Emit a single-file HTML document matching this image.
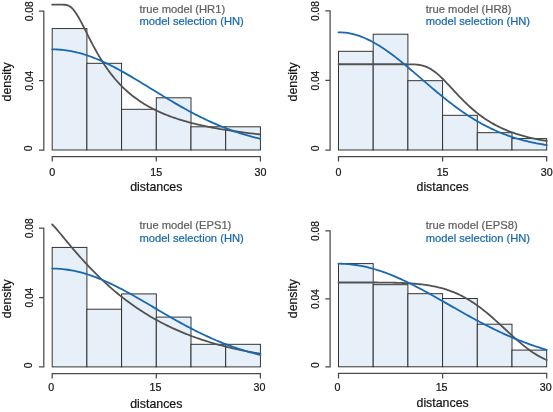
<!DOCTYPE html>
<html><head><meta charset="utf-8"><title>plot</title>
<style>
html,body{margin:0;padding:0;background:#fff}
svg{display:block}
text{font-family:"Liberation Sans",sans-serif;fill:#151515;stroke:#151515;stroke-width:0.22px}
.tk{font-size:10.7px}
.lb{font-size:12.35px}
.lg{font-size:11.2px}
</style></head><body>
<svg width="553" height="412" viewBox="0 0 553 412">
<rect width="553" height="412" fill="#fff"/>

<g>
<rect x="52.20" y="28.60" width="34.70" height="121.40" fill="#e7f0f8" stroke="#2a2a2a" stroke-width="0.95"/>
<rect x="86.90" y="63.30" width="34.70" height="86.70" fill="#e7f0f8" stroke="#2a2a2a" stroke-width="0.95"/>
<rect x="121.60" y="109.30" width="34.70" height="40.70" fill="#e7f0f8" stroke="#2a2a2a" stroke-width="0.95"/>
<rect x="156.30" y="97.80" width="34.70" height="52.20" fill="#e7f0f8" stroke="#2a2a2a" stroke-width="0.95"/>
<rect x="191.00" y="126.80" width="34.70" height="23.20" fill="#e7f0f8" stroke="#2a2a2a" stroke-width="0.95"/>
<rect x="225.70" y="126.80" width="34.70" height="23.20" fill="#e7f0f8" stroke="#2a2a2a" stroke-width="0.95"/>
<path d="M52.20,4.68 L53.94,4.68 L55.67,4.68 L57.41,4.68 L59.14,4.68 L60.88,4.68 L62.61,4.69 L64.34,4.75 L66.08,4.94 L67.81,5.40 L69.55,6.23 L71.28,7.50 L73.02,9.23 L74.75,11.39 L76.49,13.92 L78.23,16.76 L79.96,19.85 L81.70,23.10 L83.43,26.47 L85.17,29.91 L86.90,33.37 L88.64,36.81 L90.37,40.22 L92.11,43.56 L93.84,46.83 L95.58,50.02 L97.31,53.11 L99.05,56.10 L100.78,58.98 L102.52,61.77 L104.25,64.45 L105.99,67.02 L107.72,69.50 L109.46,71.88 L111.19,74.17 L112.93,76.36 L114.66,78.47 L116.40,80.49 L118.13,82.43 L119.87,84.29 L121.60,86.08 L123.34,87.80 L125.07,89.45 L126.81,91.03 L128.54,92.55 L130.28,94.01 L132.01,95.42 L133.75,96.77 L135.48,98.08 L137.22,99.33 L138.95,100.54 L140.69,101.70 L142.42,102.82 L144.16,103.90 L145.89,104.94 L147.62,105.95 L149.36,106.92 L151.10,107.86 L152.83,108.76 L154.56,109.64 L156.30,110.48 L158.04,111.30 L159.77,112.09 L161.50,112.86 L163.24,113.60 L164.98,114.31 L166.71,115.01 L168.44,115.68 L170.18,116.33 L171.92,116.97 L173.65,117.58 L175.38,118.18 L177.12,118.75 L178.86,119.32 L180.59,119.86 L182.32,120.39 L184.06,120.91 L185.80,121.41 L187.53,121.89 L189.26,122.37 L191.00,122.83 L192.74,123.27 L194.47,123.71 L196.20,124.13 L197.94,124.55 L199.68,124.95 L201.41,125.34 L203.15,125.73 L204.88,126.10 L206.62,126.46 L208.35,126.82 L210.09,127.16 L211.82,127.50 L213.56,127.83 L215.29,128.15 L217.03,128.47 L218.76,128.77 L220.50,129.07 L222.23,129.37 L223.97,129.65 L225.70,129.93 L227.44,130.20 L229.17,130.47 L230.91,130.73 L232.64,130.99 L234.38,131.24 L236.11,131.48 L237.85,131.72 L239.58,131.96 L241.31,132.19 L243.05,132.41 L244.79,132.63 L246.52,132.85 L248.25,133.06 L249.99,133.27 L251.73,133.47 L253.46,133.67 L255.19,133.86 L256.93,134.05 L258.67,134.24 L260.40,134.43" fill="none" stroke="#525252" stroke-width="1.8" stroke-linejoin="round" stroke-linecap="round"/>
<path d="M52.20,49.35 L53.94,49.36 L55.67,49.41 L57.41,49.49 L59.14,49.59 L60.88,49.73 L62.61,49.90 L64.34,50.10 L66.08,50.33 L67.81,50.59 L69.55,50.87 L71.28,51.19 L73.02,51.54 L74.75,51.91 L76.49,52.32 L78.23,52.75 L79.96,53.21 L81.70,53.69 L83.43,54.21 L85.17,54.75 L86.90,55.31 L88.64,55.90 L90.37,56.52 L92.11,57.16 L93.84,57.82 L95.58,58.51 L97.31,59.22 L99.05,59.95 L100.78,60.70 L102.52,61.48 L104.25,62.27 L105.99,63.09 L107.72,63.92 L109.46,64.77 L111.19,65.64 L112.93,66.52 L114.66,67.42 L116.40,68.34 L118.13,69.27 L119.87,70.21 L121.60,71.17 L123.34,72.14 L125.07,73.12 L126.81,74.11 L128.54,75.11 L130.28,76.12 L132.01,77.14 L133.75,78.17 L135.48,79.20 L137.22,80.24 L138.95,81.29 L140.69,82.34 L142.42,83.40 L144.16,84.46 L145.89,85.52 L147.62,86.58 L149.36,87.65 L151.10,88.71 L152.83,89.78 L154.56,90.85 L156.30,91.91 L158.04,92.98 L159.77,94.04 L161.50,95.10 L163.24,96.15 L164.98,97.20 L166.71,98.25 L168.44,99.29 L170.18,100.32 L171.92,101.35 L173.65,102.37 L175.38,103.39 L177.12,104.39 L178.86,105.39 L180.59,106.38 L182.32,107.36 L184.06,108.34 L185.80,109.30 L187.53,110.25 L189.26,111.19 L191.00,112.12 L192.74,113.04 L194.47,113.95 L196.20,114.85 L197.94,115.73 L199.68,116.61 L201.41,117.47 L203.15,118.31 L204.88,119.15 L206.62,119.97 L208.35,120.78 L210.09,121.58 L211.82,122.36 L213.56,123.13 L215.29,123.89 L217.03,124.63 L218.76,125.36 L220.50,126.08 L222.23,126.78 L223.97,127.47 L225.70,128.14 L227.44,128.80 L229.17,129.45 L230.91,130.08 L232.64,130.70 L234.38,131.31 L236.11,131.90 L237.85,132.48 L239.58,133.05 L241.31,133.60 L243.05,134.14 L244.79,134.66 L246.52,135.18 L248.25,135.68 L249.99,136.17 L251.73,136.64 L253.46,137.10 L255.19,137.55 L256.93,137.99 L258.67,138.42 L260.40,138.84" fill="none" stroke="#1868b2" stroke-width="1.8" stroke-linejoin="round" stroke-linecap="round"/>
<path d="M39.00,11.10 H43.80 V150.00 H39.00 M39.00,80.55 H43.80" fill="none" stroke="#4a4a4a" stroke-width="1.25"/>
<path d="M52.20,161.60 V156.60 H260.40 V161.60 M156.30,156.60 V161.60" fill="none" stroke="#4a4a4a" stroke-width="1.25"/>
<text class="tk" transform="translate(52.20,175.80) scale(1,1.08)" text-anchor="middle">0</text>
<text class="tk" transform="translate(156.30,175.80) scale(1,1.08)" text-anchor="middle">15</text>
<text class="tk" transform="translate(260.40,175.80) scale(1,1.08)" text-anchor="middle">30</text>
<text class="lb" x="156.30" y="190.90" text-anchor="middle">distances</text>
<text class="tk" style="font-size:10.2px" transform="translate(32.30,148.40) rotate(-90)" text-anchor="middle">0</text>
<text class="tk" style="font-size:10.2px" transform="translate(32.60,80.75) rotate(-90)" text-anchor="middle">0.04</text>
<text class="tk" style="font-size:10.2px" transform="translate(32.60,11.30) rotate(-90)" text-anchor="middle">0.08</text>
<text class="lb" style="font-size:12.3px" transform="translate(11.10,81.90) rotate(-90)" text-anchor="middle">density</text>
<text class="lg" transform="translate(139.40,12.50) scale(1,1.035)" style="fill:#606060;stroke:#606060">true model (HR1)</text>
<text class="lg" transform="translate(139.40,25.30) scale(1,1.035)" style="fill:#1868b2;stroke:#1868b2">model selection (HN)</text>
</g>
<g>
<rect x="338.50" y="51.30" width="34.70" height="98.70" fill="#e7f0f8" stroke="#2a2a2a" stroke-width="0.95"/>
<rect x="373.20" y="34.20" width="34.70" height="115.80" fill="#e7f0f8" stroke="#2a2a2a" stroke-width="0.95"/>
<rect x="407.90" y="80.70" width="34.70" height="69.30" fill="#e7f0f8" stroke="#2a2a2a" stroke-width="0.95"/>
<rect x="442.60" y="115.30" width="34.70" height="34.70" fill="#e7f0f8" stroke="#2a2a2a" stroke-width="0.95"/>
<rect x="477.30" y="132.70" width="34.70" height="17.30" fill="#e7f0f8" stroke="#2a2a2a" stroke-width="0.95"/>
<rect x="512.00" y="138.60" width="34.70" height="11.40" fill="#e7f0f8" stroke="#2a2a2a" stroke-width="0.95"/>
<path d="M338.50,64.27 L340.24,64.27 L341.97,64.27 L343.70,64.27 L345.44,64.27 L347.18,64.27 L348.91,64.27 L350.64,64.27 L352.38,64.27 L354.12,64.27 L355.85,64.27 L357.58,64.27 L359.32,64.27 L361.06,64.27 L362.79,64.27 L364.52,64.27 L366.26,64.27 L368.00,64.27 L369.73,64.27 L371.47,64.27 L373.20,64.27 L374.94,64.27 L376.67,64.27 L378.40,64.27 L380.14,64.27 L381.88,64.27 L383.61,64.27 L385.35,64.27 L387.08,64.27 L388.81,64.27 L390.55,64.27 L392.29,64.27 L394.02,64.27 L395.75,64.27 L397.49,64.27 L399.23,64.27 L400.96,64.27 L402.69,64.27 L404.43,64.27 L406.17,64.27 L407.90,64.28 L409.63,64.29 L411.37,64.32 L413.11,64.37 L414.84,64.45 L416.57,64.57 L418.31,64.76 L420.05,65.03 L421.78,65.38 L423.51,65.84 L425.25,66.41 L426.99,67.10 L428.72,67.93 L430.45,68.88 L432.19,69.96 L433.93,71.17 L435.66,72.49 L437.39,73.92 L439.13,75.44 L440.87,77.05 L442.60,78.74 L444.34,80.48 L446.07,82.28 L447.81,84.11 L449.54,85.96 L451.27,87.83 L453.01,89.71 L454.75,91.58 L456.48,93.44 L458.22,95.28 L459.95,97.09 L461.69,98.88 L463.42,100.63 L465.15,102.34 L466.89,104.02 L468.62,105.65 L470.36,107.23 L472.10,108.77 L473.83,110.26 L475.56,111.71 L477.30,113.11 L479.03,114.46 L480.77,115.76 L482.50,117.02 L484.24,118.23 L485.98,119.40 L487.71,120.52 L489.45,121.61 L491.18,122.65 L492.92,123.65 L494.65,124.61 L496.38,125.53 L498.12,126.42 L499.86,127.27 L501.59,128.09 L503.33,128.87 L505.06,129.63 L506.80,130.35 L508.53,131.05 L510.26,131.72 L512.00,132.36 L513.74,132.97 L515.47,133.56 L517.21,134.13 L518.94,134.67 L520.67,135.20 L522.41,135.70 L524.14,136.18 L525.88,136.64 L527.62,137.09 L529.35,137.52 L531.09,137.93 L532.82,138.32 L534.56,138.70 L536.29,139.07 L538.02,139.42 L539.76,139.76 L541.50,140.08 L543.23,140.39 L544.97,140.70 L546.70,140.99" fill="none" stroke="#525252" stroke-width="1.8" stroke-linejoin="round" stroke-linecap="round"/>
<path d="M338.50,32.30 L340.24,32.33 L341.97,32.41 L343.70,32.53 L345.44,32.72 L347.18,32.95 L348.91,33.23 L350.64,33.56 L352.38,33.95 L354.12,34.38 L355.85,34.86 L357.58,35.40 L359.32,35.97 L361.06,36.60 L362.79,37.27 L364.52,37.99 L366.26,38.75 L368.00,39.56 L369.73,40.41 L371.47,41.30 L373.20,42.22 L374.94,43.19 L376.67,44.20 L378.40,45.24 L380.14,46.32 L381.88,47.43 L383.61,48.58 L385.35,49.76 L387.08,50.96 L388.81,52.20 L390.55,53.46 L392.29,54.75 L394.02,56.06 L395.75,57.40 L397.49,58.75 L399.23,60.13 L400.96,61.52 L402.69,62.93 L404.43,64.36 L406.17,65.80 L407.90,67.25 L409.63,68.71 L411.37,70.19 L413.11,71.67 L414.84,73.15 L416.57,74.64 L418.31,76.14 L420.05,77.64 L421.78,79.13 L423.51,80.63 L425.25,82.13 L426.99,83.62 L428.72,85.11 L430.45,86.59 L432.19,88.07 L433.93,89.54 L435.66,91.00 L437.39,92.45 L439.13,93.89 L440.87,95.31 L442.60,96.73 L444.34,98.13 L446.07,99.51 L447.81,100.88 L449.54,102.24 L451.27,103.58 L453.01,104.90 L454.75,106.20 L456.48,107.48 L458.22,108.74 L459.95,109.99 L461.69,111.21 L463.42,112.41 L465.15,113.59 L466.89,114.75 L468.62,115.89 L470.36,117.01 L472.10,118.10 L473.83,119.17 L475.56,120.22 L477.30,121.24 L479.03,122.24 L480.77,123.22 L482.50,124.18 L484.24,125.11 L485.98,126.02 L487.71,126.91 L489.45,127.77 L491.18,128.61 L492.92,129.43 L494.65,130.22 L496.38,131.00 L498.12,131.75 L499.86,132.47 L501.59,133.18 L503.33,133.87 L505.06,134.53 L506.80,135.17 L508.53,135.80 L510.26,136.40 L512.00,136.98 L513.74,137.55 L515.47,138.09 L517.21,138.62 L518.94,139.12 L520.67,139.61 L522.41,140.09 L524.14,140.54 L525.88,140.98 L527.62,141.40 L529.35,141.80 L531.09,142.19 L532.82,142.57 L534.56,142.93 L536.29,143.27 L538.02,143.60 L539.76,143.92 L541.50,144.22 L543.23,144.51 L544.97,144.79 L546.70,145.06" fill="none" stroke="#1868b2" stroke-width="1.8" stroke-linejoin="round" stroke-linecap="round"/>
<path d="M325.30,10.90 H330.10 V150.00 H325.30 M325.30,80.45 H330.10" fill="none" stroke="#4a4a4a" stroke-width="1.25"/>
<path d="M338.50,161.60 V156.60 H546.70 V161.60 M442.60,156.60 V161.60" fill="none" stroke="#4a4a4a" stroke-width="1.25"/>
<text class="tk" transform="translate(338.50,175.80) scale(1,1.08)" text-anchor="middle">0</text>
<text class="tk" transform="translate(442.60,175.80) scale(1,1.08)" text-anchor="middle">15</text>
<text class="tk" transform="translate(546.70,175.80) scale(1,1.08)" text-anchor="middle">30</text>
<text class="lb" x="442.60" y="190.90" text-anchor="middle">distances</text>
<text class="tk" style="font-size:10.2px" transform="translate(318.60,148.40) rotate(-90)" text-anchor="middle">0</text>
<text class="tk" style="font-size:10.2px" transform="translate(318.90,80.65) rotate(-90)" text-anchor="middle">0.04</text>
<text class="tk" style="font-size:10.2px" transform="translate(318.90,11.10) rotate(-90)" text-anchor="middle">0.08</text>
<text class="lb" style="font-size:12.3px" transform="translate(297.40,81.90) rotate(-90)" text-anchor="middle">density</text>
<text class="lg" transform="translate(425.70,12.50) scale(1,1.035)" style="fill:#606060;stroke:#606060">true model (HR8)</text>
<text class="lg" transform="translate(425.70,25.30) scale(1,1.035)" style="fill:#1868b2;stroke:#1868b2">model selection (HN)</text>
</g>
<g>
<rect x="52.20" y="247.40" width="34.70" height="119.50" fill="#e7f0f8" stroke="#2a2a2a" stroke-width="0.95"/>
<rect x="86.90" y="309.20" width="34.70" height="57.70" fill="#e7f0f8" stroke="#2a2a2a" stroke-width="0.95"/>
<rect x="121.60" y="293.90" width="34.70" height="73.00" fill="#e7f0f8" stroke="#2a2a2a" stroke-width="0.95"/>
<rect x="156.30" y="317.10" width="34.70" height="49.80" fill="#e7f0f8" stroke="#2a2a2a" stroke-width="0.95"/>
<rect x="191.00" y="344.30" width="34.70" height="22.60" fill="#e7f0f8" stroke="#2a2a2a" stroke-width="0.95"/>
<rect x="225.70" y="344.30" width="34.70" height="22.60" fill="#e7f0f8" stroke="#2a2a2a" stroke-width="0.95"/>
<path d="M52.20,224.49 L53.94,226.20 L55.67,228.13 L57.41,230.15 L59.14,232.21 L60.88,234.29 L62.61,236.38 L64.34,238.47 L66.08,240.56 L67.81,242.64 L69.55,244.72 L71.28,246.78 L73.02,248.82 L74.75,250.85 L76.49,252.86 L78.23,254.84 L79.96,256.81 L81.70,258.76 L83.43,260.68 L85.17,262.58 L86.90,264.45 L88.64,266.30 L90.37,268.13 L92.11,269.93 L93.84,271.71 L95.58,273.46 L97.31,275.19 L99.05,276.89 L100.78,278.57 L102.52,280.22 L104.25,281.84 L105.99,283.44 L107.72,285.02 L109.46,286.57 L111.19,288.10 L112.93,289.60 L114.66,291.08 L116.40,292.53 L118.13,293.96 L119.87,295.37 L121.60,296.75 L123.34,298.11 L125.07,299.45 L126.81,300.76 L128.54,302.06 L130.28,303.33 L132.01,304.57 L133.75,305.80 L135.48,307.00 L137.22,308.19 L138.95,309.35 L140.69,310.49 L142.42,311.61 L144.16,312.71 L145.89,313.79 L147.62,314.85 L149.36,315.90 L151.10,316.92 L152.83,317.92 L154.56,318.91 L156.30,319.88 L158.04,320.83 L159.77,321.76 L161.50,322.68 L163.24,323.57 L164.98,324.46 L166.71,325.32 L168.44,326.17 L170.18,327.00 L171.92,327.82 L173.65,328.62 L175.38,329.41 L177.12,330.18 L178.86,330.93 L180.59,331.67 L182.32,332.40 L184.06,333.11 L185.80,333.81 L187.53,334.50 L189.26,335.17 L191.00,335.83 L192.74,336.48 L194.47,337.11 L196.20,337.73 L197.94,338.34 L199.68,338.94 L201.41,339.53 L203.15,340.10 L204.88,340.66 L206.62,341.21 L208.35,341.75 L210.09,342.28 L211.82,342.80 L213.56,343.31 L215.29,343.81 L217.03,344.30 L218.76,344.78 L220.50,345.25 L222.23,345.71 L223.97,346.16 L225.70,346.60 L227.44,347.03 L229.17,347.45 L230.91,347.87 L232.64,348.28 L234.38,348.67 L236.11,349.06 L237.85,349.45 L239.58,349.82 L241.31,350.19 L243.05,350.55 L244.79,350.90 L246.52,351.24 L248.25,351.58 L249.99,351.91 L251.73,352.23 L253.46,352.55 L255.19,352.86 L256.93,353.16 L258.67,353.46 L260.40,353.75" fill="none" stroke="#525252" stroke-width="1.8" stroke-linejoin="round" stroke-linecap="round"/>
<path d="M52.20,268.58 L53.94,268.60 L55.67,268.64 L57.41,268.71 L59.14,268.81 L60.88,268.94 L62.61,269.10 L64.34,269.29 L66.08,269.50 L67.81,269.74 L69.55,270.01 L71.28,270.31 L73.02,270.64 L74.75,270.99 L76.49,271.37 L78.23,271.77 L79.96,272.20 L81.70,272.66 L83.43,273.14 L85.17,273.65 L86.90,274.18 L88.64,274.74 L90.37,275.32 L92.11,275.92 L93.84,276.54 L95.58,277.19 L97.31,277.86 L99.05,278.55 L100.78,279.25 L102.52,279.98 L104.25,280.73 L105.99,281.50 L107.72,282.28 L109.46,283.09 L111.19,283.91 L112.93,284.74 L114.66,285.59 L116.40,286.46 L118.13,287.34 L119.87,288.23 L121.60,289.13 L123.34,290.05 L125.07,290.98 L126.81,291.92 L128.54,292.87 L130.28,293.83 L132.01,294.80 L133.75,295.77 L135.48,296.76 L137.22,297.75 L138.95,298.74 L140.69,299.74 L142.42,300.75 L144.16,301.76 L145.89,302.77 L147.62,303.79 L149.36,304.81 L151.10,305.83 L152.83,306.85 L154.56,307.87 L156.30,308.89 L158.04,309.91 L159.77,310.93 L161.50,311.94 L163.24,312.96 L164.98,313.97 L166.71,314.97 L168.44,315.98 L170.18,316.97 L171.92,317.97 L173.65,318.95 L175.38,319.93 L177.12,320.91 L178.86,321.88 L180.59,322.84 L182.32,323.79 L184.06,324.73 L185.80,325.67 L187.53,326.59 L189.26,327.51 L191.00,328.42 L192.74,329.31 L194.47,330.20 L196.20,331.08 L197.94,331.94 L199.68,332.80 L201.41,333.64 L203.15,334.48 L204.88,335.30 L206.62,336.11 L208.35,336.90 L210.09,337.69 L211.82,338.46 L213.56,339.22 L215.29,339.97 L217.03,340.71 L218.76,341.43 L220.50,342.14 L222.23,342.84 L223.97,343.52 L225.70,344.19 L227.44,344.85 L229.17,345.50 L230.91,346.13 L232.64,346.75 L234.38,347.36 L236.11,347.96 L237.85,348.54 L239.58,349.11 L241.31,349.66 L243.05,350.21 L244.79,350.74 L246.52,351.26 L248.25,351.77 L249.99,352.26 L251.73,352.75 L253.46,353.22 L255.19,353.68 L256.93,354.12 L258.67,354.56 L260.40,354.98" fill="none" stroke="#1868b2" stroke-width="1.8" stroke-linejoin="round" stroke-linecap="round"/>
<path d="M39.00,228.10 H43.80 V366.90 H39.00 M39.00,297.50 H43.80" fill="none" stroke="#4a4a4a" stroke-width="1.25"/>
<path d="M52.20,378.50 V373.50 H260.40 V378.50 M156.30,373.50 V378.50" fill="none" stroke="#4a4a4a" stroke-width="1.25"/>
<text class="tk" transform="translate(51.30,391.30) scale(1,1.08)" text-anchor="middle">0</text>
<text class="tk" transform="translate(155.40,391.30) scale(1,1.08)" text-anchor="middle">15</text>
<text class="tk" transform="translate(259.50,391.30) scale(1,1.08)" text-anchor="middle">30</text>
<text class="lb" x="156.30" y="407.50" text-anchor="middle">distances</text>
<text class="tk" style="font-size:10.2px" transform="translate(32.30,365.30) rotate(-90)" text-anchor="middle">0</text>
<text class="tk" style="font-size:10.2px" transform="translate(32.60,297.70) rotate(-90)" text-anchor="middle">0.04</text>
<text class="tk" style="font-size:10.2px" transform="translate(32.60,228.30) rotate(-90)" text-anchor="middle">0.08</text>
<text class="lb" style="font-size:12.3px" transform="translate(11.10,298.80) rotate(-90)" text-anchor="middle">density</text>
<text class="lg" transform="translate(139.40,229.10) scale(1,1.035)" style="fill:#606060;stroke:#606060">true model (EPS1)</text>
<text class="lg" transform="translate(139.40,241.90) scale(1,1.035)" style="fill:#1868b2;stroke:#1868b2">model selection (HN)</text>
</g>
<g>
<rect x="338.50" y="263.60" width="34.70" height="103.20" fill="#e7f0f8" stroke="#2a2a2a" stroke-width="0.95"/>
<rect x="373.20" y="284.70" width="34.70" height="82.10" fill="#e7f0f8" stroke="#2a2a2a" stroke-width="0.95"/>
<rect x="407.90" y="293.70" width="34.70" height="73.10" fill="#e7f0f8" stroke="#2a2a2a" stroke-width="0.95"/>
<rect x="442.60" y="298.50" width="34.70" height="68.30" fill="#e7f0f8" stroke="#2a2a2a" stroke-width="0.95"/>
<rect x="477.30" y="324.20" width="34.70" height="42.60" fill="#e7f0f8" stroke="#2a2a2a" stroke-width="0.95"/>
<rect x="512.00" y="350.10" width="34.70" height="16.70" fill="#e7f0f8" stroke="#2a2a2a" stroke-width="0.95"/>
<path d="M338.50,282.48 L340.24,282.48 L341.97,282.48 L343.70,282.48 L345.44,282.48 L347.18,282.48 L348.91,282.48 L350.64,282.48 L352.38,282.48 L354.12,282.48 L355.85,282.48 L357.58,282.48 L359.32,282.48 L361.06,282.48 L362.79,282.49 L364.52,282.49 L366.26,282.49 L368.00,282.49 L369.73,282.50 L371.47,282.50 L373.20,282.50 L374.94,282.51 L376.67,282.52 L378.40,282.53 L380.14,282.54 L381.88,282.55 L383.61,282.57 L385.35,282.59 L387.08,282.61 L388.81,282.63 L390.55,282.66 L392.29,282.69 L394.02,282.73 L395.75,282.77 L397.49,282.82 L399.23,282.88 L400.96,282.94 L402.69,283.01 L404.43,283.08 L406.17,283.17 L407.90,283.26 L409.63,283.36 L411.37,283.48 L413.11,283.60 L414.84,283.74 L416.57,283.89 L418.31,284.06 L420.05,284.24 L421.78,284.44 L423.51,284.65 L425.25,284.88 L426.99,285.14 L428.72,285.41 L430.45,285.70 L432.19,286.02 L433.93,286.35 L435.66,286.72 L437.39,287.11 L439.13,287.52 L440.87,287.97 L442.60,288.44 L444.34,288.94 L446.07,289.48 L447.81,290.05 L449.54,290.65 L451.27,291.28 L453.01,291.95 L454.75,292.66 L456.48,293.40 L458.22,294.19 L459.95,295.01 L461.69,295.87 L463.42,296.77 L465.15,297.71 L466.89,298.70 L468.62,299.72 L470.36,300.78 L472.10,301.89 L473.83,303.03 L475.56,304.21 L477.30,305.44 L479.03,306.70 L480.77,308.00 L482.50,309.34 L484.24,310.71 L485.98,312.11 L487.71,313.55 L489.45,315.02 L491.18,316.51 L492.92,318.03 L494.65,319.57 L496.38,321.13 L498.12,322.71 L499.86,324.30 L501.59,325.90 L503.33,327.51 L505.06,329.12 L506.80,330.73 L508.53,332.34 L510.26,333.94 L512.00,335.53 L513.74,337.10 L515.47,338.66 L517.21,340.19 L518.94,341.69 L520.67,343.17 L522.41,344.61 L524.14,346.02 L525.88,347.39 L527.62,348.71 L529.35,349.99 L531.09,351.22 L532.82,352.41 L534.56,353.54 L536.29,354.62 L538.02,355.65 L539.76,356.62 L541.50,357.54 L543.23,358.41 L544.97,359.22 L546.70,359.97" fill="none" stroke="#525252" stroke-width="1.8" stroke-linejoin="round" stroke-linecap="round"/>
<path d="M338.50,263.71 L340.24,263.72 L341.97,263.76 L343.70,263.82 L345.44,263.91 L347.18,264.03 L348.91,264.17 L350.64,264.34 L352.38,264.53 L354.12,264.75 L355.85,264.99 L357.58,265.26 L359.32,265.55 L361.06,265.87 L362.79,266.21 L364.52,266.57 L366.26,266.96 L368.00,267.38 L369.73,267.81 L371.47,268.27 L373.20,268.75 L374.94,269.25 L376.67,269.78 L378.40,270.32 L380.14,270.89 L381.88,271.48 L383.61,272.09 L385.35,272.71 L387.08,273.36 L388.81,274.03 L390.55,274.71 L392.29,275.41 L394.02,276.13 L395.75,276.87 L397.49,277.62 L399.23,278.39 L400.96,279.17 L402.69,279.97 L404.43,280.78 L406.17,281.61 L407.90,282.45 L409.63,283.30 L411.37,284.17 L413.11,285.04 L414.84,285.93 L416.57,286.83 L418.31,287.74 L420.05,288.65 L421.78,289.58 L423.51,290.51 L425.25,291.45 L426.99,292.40 L428.72,293.36 L430.45,294.32 L432.19,295.29 L433.93,296.26 L435.66,297.23 L437.39,298.21 L439.13,299.19 L440.87,300.18 L442.60,301.16 L444.34,302.15 L446.07,303.14 L447.81,304.13 L449.54,305.12 L451.27,306.11 L453.01,307.10 L454.75,308.09 L456.48,309.08 L458.22,310.06 L459.95,311.04 L461.69,312.02 L463.42,312.99 L465.15,313.96 L466.89,314.93 L468.62,315.89 L470.36,316.84 L472.10,317.79 L473.83,318.74 L475.56,319.67 L477.30,320.60 L479.03,321.53 L480.77,322.44 L482.50,323.35 L484.24,324.25 L485.98,325.14 L487.71,326.03 L489.45,326.90 L491.18,327.77 L492.92,328.63 L494.65,329.47 L496.38,330.31 L498.12,331.14 L499.86,331.96 L501.59,332.77 L503.33,333.56 L505.06,334.35 L506.80,335.13 L508.53,335.89 L510.26,336.65 L512.00,337.39 L513.74,338.12 L515.47,338.84 L517.21,339.55 L518.94,340.25 L520.67,340.94 L522.41,341.61 L524.14,342.28 L525.88,342.93 L527.62,343.57 L529.35,344.20 L531.09,344.82 L532.82,345.42 L534.56,346.02 L536.29,346.60 L538.02,347.17 L539.76,347.73 L541.50,348.28 L543.23,348.82 L544.97,349.35 L546.70,349.86" fill="none" stroke="#1868b2" stroke-width="1.8" stroke-linejoin="round" stroke-linecap="round"/>
<path d="M325.30,230.90 H330.10 V366.80 H325.30 M325.30,298.85 H330.10" fill="none" stroke="#4a4a4a" stroke-width="1.25"/>
<path d="M338.50,378.40 V373.40 H546.70 V378.40 M442.60,373.40 V378.40" fill="none" stroke="#4a4a4a" stroke-width="1.25"/>
<text class="tk" transform="translate(337.50,391.30) scale(1,1.08)" text-anchor="middle">0</text>
<text class="tk" transform="translate(441.60,391.30) scale(1,1.08)" text-anchor="middle">15</text>
<text class="tk" transform="translate(545.70,391.30) scale(1,1.08)" text-anchor="middle">30</text>
<text class="lb" x="442.60" y="407.40" text-anchor="middle">distances</text>
<text class="tk" style="font-size:10.2px" transform="translate(318.60,365.20) rotate(-90)" text-anchor="middle">0</text>
<text class="tk" style="font-size:10.2px" transform="translate(318.90,299.05) rotate(-90)" text-anchor="middle">0.04</text>
<text class="tk" style="font-size:10.2px" transform="translate(318.90,231.10) rotate(-90)" text-anchor="middle">0.08</text>
<text class="lb" style="font-size:12.3px" transform="translate(297.40,298.70) rotate(-90)" text-anchor="middle">density</text>
<text class="lg" transform="translate(425.70,229.00) scale(1,1.035)" style="fill:#606060;stroke:#606060">true model (EPS8)</text>
<text class="lg" transform="translate(425.70,241.80) scale(1,1.035)" style="fill:#1868b2;stroke:#1868b2">model selection (HN)</text>
</g>
</svg></body></html>
